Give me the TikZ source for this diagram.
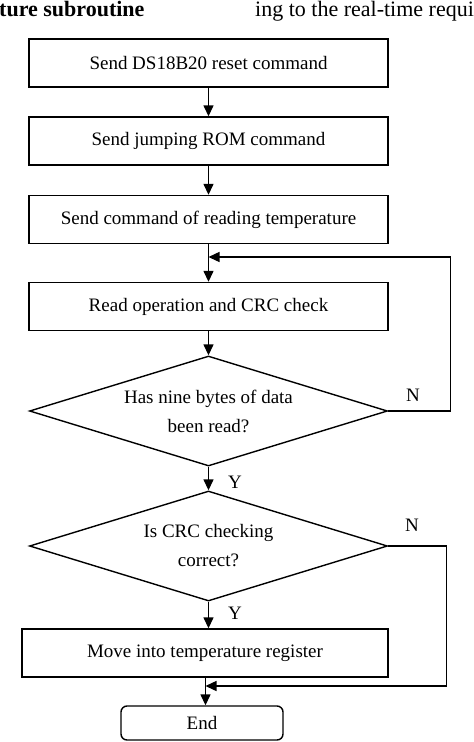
\documentclass[tikz,border=0pt]{standalone}
\usepackage{fontspec}
\setmainfont{Liberation Serif}
\usetikzlibrary{shapes.geometric,arrows.meta}

\begin{document}
\begin{tikzpicture}[x=1pt, y=-1pt,
        proc/.style={rectangle, draw=black, line width=1.4pt, minimum width=359pt, minimum height=48pt, inner sep=0pt, font=\fontsize{19}{29}\selectfont},
        decision/.style={diamond, draw=black, line width=1.4pt, aspect=3.2, inner sep=0pt, minimum width=358pt, minimum height=110pt, align=center, font=\fontsize{19}{29}\selectfont},
        term/.style={rectangle, rounded corners=6pt, draw=black, line width=1.4pt, minimum width=162pt, minimum height=34pt, inner sep=0pt, font=\fontsize{19}{29}\selectfont},
        lbl/.style={inner sep=0pt, font=\fontsize{19}{23}\selectfont},
        head/.style={inner sep=0pt, anchor=base west, font=\fontsize{22}{26}\selectfont},
        arr/.style={-{Triangle[length=11pt,width=10pt]}, line width=1.4pt}]
        \useasboundingbox (0,0) rectangle (474,742);

        % Running text
        \node[head] (capL) at (-1,16) {\textbf{ture subroutine}};
        \node[head] (capR) at (255,16) {ing to the real-time requi};

        % Steps
        \node[proc] (reset) at (208.5,63) {Send DS18B20 reset command};
        \node[proc] (skip) at (208.5,141) {Send jumping ROM command};
        \node[proc] (conv) at (208.5,219.5) {Send command of reading temperature};
        \node[proc] (read) at (208.5,306.5) {Read operation and CRC check};

        % Decisions
        \node[decision] (nine) at (208.5,411) {Has nine bytes of data\\been read?};
        \node[decision] (crc) at (208.5,546) {Is CRC checking\\correct?};

        % Store and end
        \node[proc, minimum width=366pt] (move) at (205,653) {Move into temperature register};
        \node[term] (stop) at (202,723) {End};

        % Labels
        \node[lbl] (n1) at (413,395) {N};
        \node[lbl] (y1) at (235,482) {Y};
        \node[lbl] (n2) at (412,525) {N};
        \node[lbl] (y2) at (235,613) {Y};

        % Joints
        \coordinate (j1) at (208.5,257);
        \coordinate (j2) at (205.5,686);

        % Connections
        \draw[arr] (reset) -- (skip);
        \draw[arr] (skip) -- (conv);
        \draw[arr] (conv) -- (read);
        \draw[arr] (read) -- (nine);
        \draw[arr] (nine) -- (crc);
        \draw[arr] (crc) -- (crc.south |- move.north);
        \draw[arr] (move.south -| j2) -- (j2 |- stop.north);
        \draw[arr] (nine.east) -- ++(62,0) |- (j1);
        \draw[arr] (crc.east) -- ++(58,0) |- (j2);
    \end{tikzpicture}
\end{document}
